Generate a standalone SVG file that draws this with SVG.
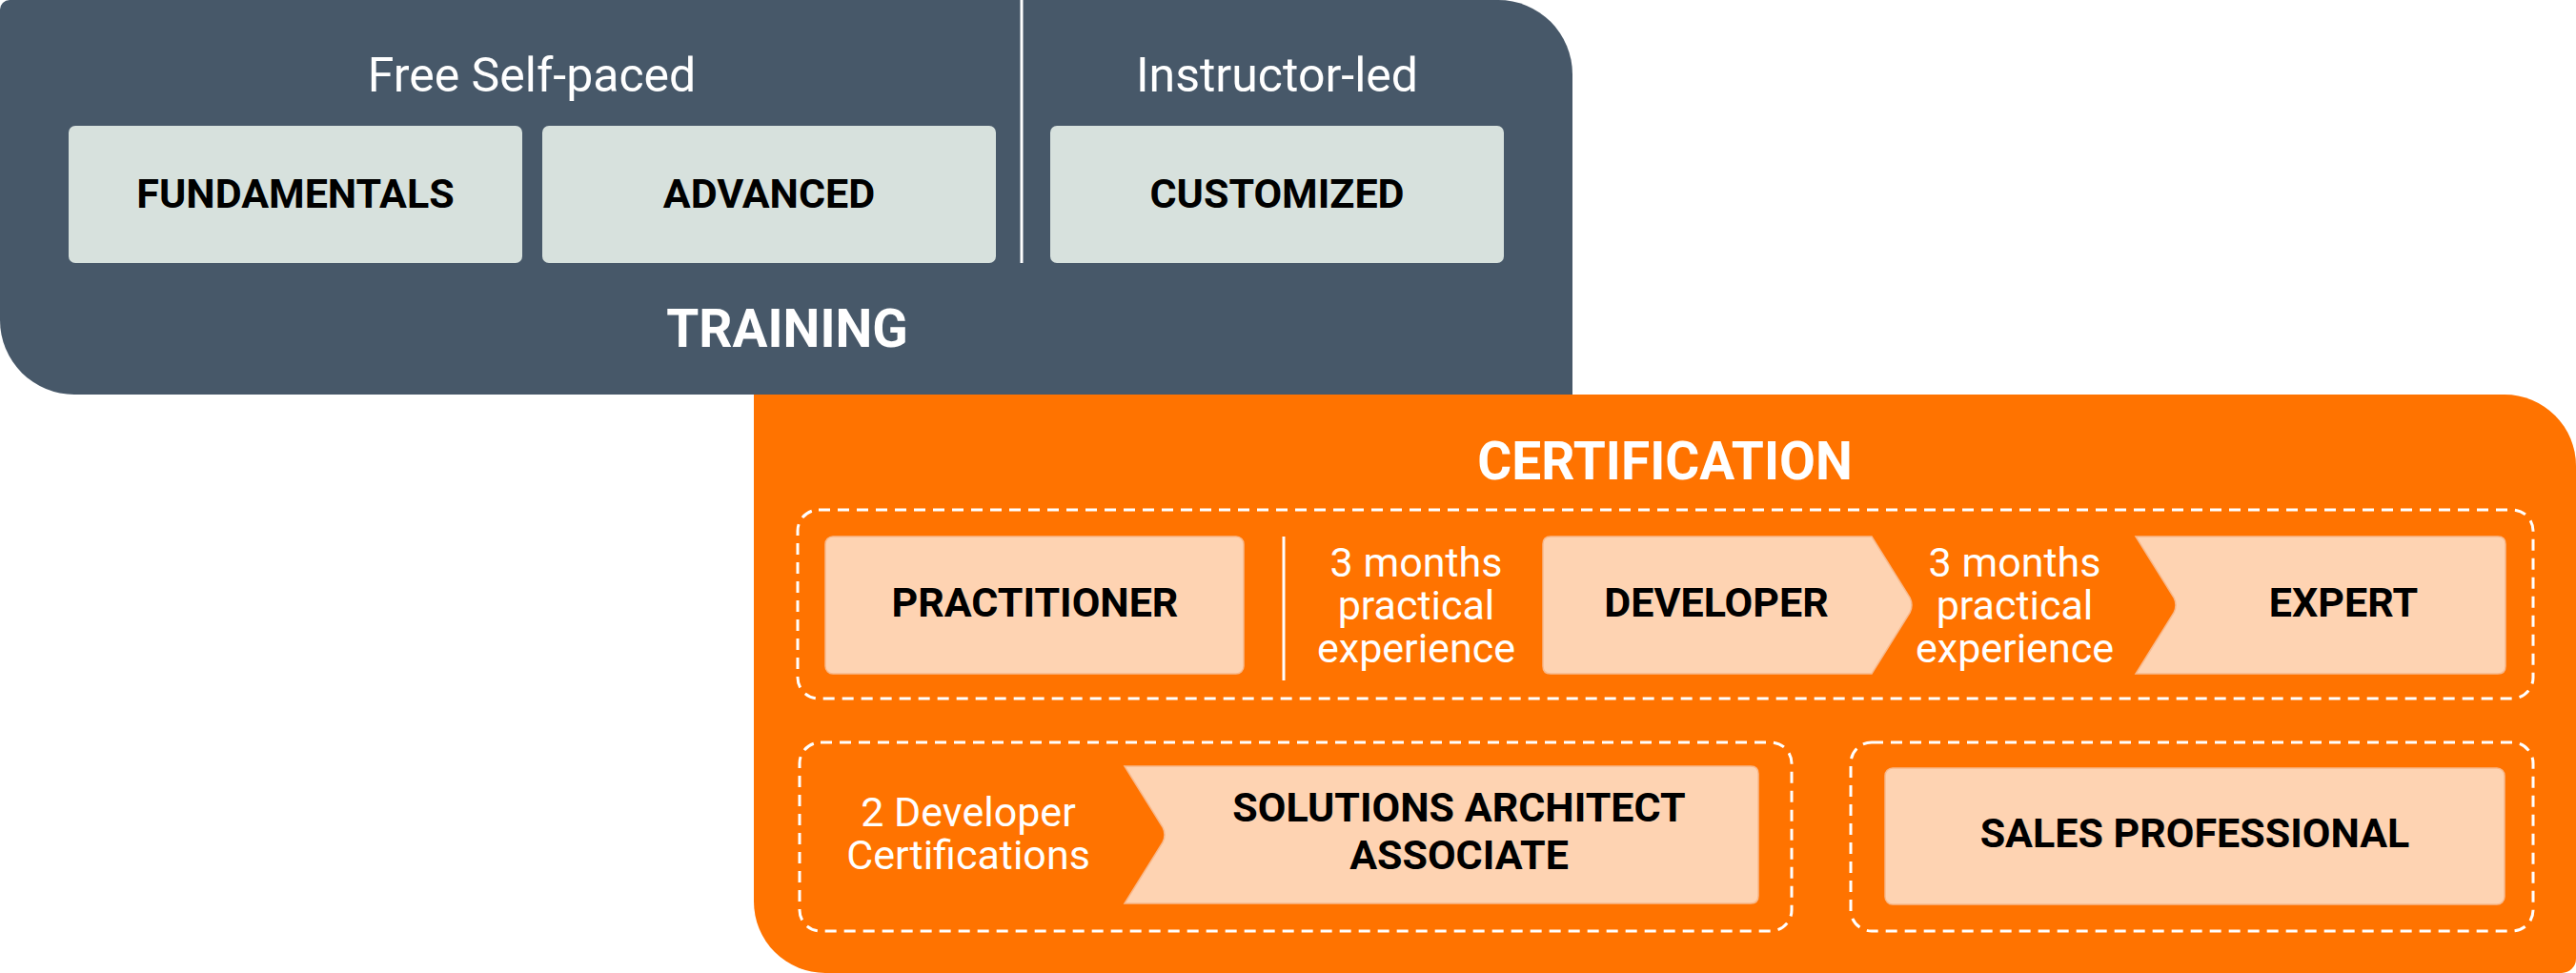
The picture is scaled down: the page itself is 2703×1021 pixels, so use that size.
<svg xmlns="http://www.w3.org/2000/svg" width="2703" height="1021" viewBox="0 0 2703 1021">
<style>
.hdr{font-family:Roboto,"Liberation Sans",sans-serif;font-size:50px;fill:#fff;text-anchor:middle}
.ttl{font-family:Roboto,"Liberation Sans",sans-serif;font-size:55px;font-weight:bold;fill:#fff;text-anchor:middle}
.lbl{font-family:Roboto,"Liberation Sans",sans-serif;font-size:43px;font-weight:bold;fill:#000;text-anchor:middle}
.note{font-family:Roboto,"Liberation Sans",sans-serif;font-size:43px;fill:#fff;text-anchor:middle}
.gbox{fill:#D7E1DD}
.obox{fill:#FED3B2;stroke:#F8B98C;stroke-width:1.5}
.dash{fill:none;stroke:#fff;stroke-width:3;stroke-dasharray:12 8}
.sep{stroke:#fff;stroke-width:3}
</style>
<g id="training">
<path d="M 10 0 H 1572 A 78 78 0 0 1 1650 78 V 414 H 78 A 78 78 0 0 1 0 336 V 10 A 10 10 0 0 1 10 0 Z" fill="#475869"/>
<text class="hdr" x="558" y="96">Free Self-paced</text>
<text class="hdr" x="1340" y="96">Instructor-led</text>
<line class="sep" x1="1072" y1="0" x2="1072" y2="276"/>
<text class="ttl" x="826" y="364">TRAINING</text>
</g>
<g id="fundamentals">
<rect class="gbox" x="72" y="132" width="476" height="144" rx="7"/>
<text class="lbl" x="310" y="218">FUNDAMENTALS</text>
</g>
<g id="advanced">
<rect class="gbox" x="569" y="132" width="476" height="144" rx="7"/>
<text class="lbl" x="807" y="218">ADVANCED</text>
</g>
<g id="customized">
<rect class="gbox" x="1102" y="132" width="476" height="144" rx="7"/>
<text class="lbl" x="1340" y="218">CUSTOMIZED</text>
</g>
<g id="certification">
<path d="M 791 414 H 2628 A 75 75 0 0 1 2703 489 V 1006 A 15 15 0 0 1 2688 1021 H 866 A 75 75 0 0 1 791 946 Z" fill="#FF7300"/>
<text class="ttl" x="1747" y="503">CERTIFICATION</text>
<rect class="dash" x="837" y="535" width="1821" height="198" rx="22"/>
<rect class="dash" x="839" y="779" width="1041" height="198" rx="22"/>
<rect class="dash" x="1942" y="779" width="716" height="198" rx="22"/>
<line class="sep" x1="1347" y1="563" x2="1347" y2="714"/>
<text class="note" x="1486" y="605">3 months</text>
<text class="note" x="1486" y="650">practical</text>
<text class="note" x="1486" y="695">experience</text>
<text class="note" x="2114" y="605">3 months</text>
<text class="note" x="2114" y="650">practical</text>
<text class="note" x="2114" y="695">experience</text>
<text class="note" x="1016" y="867">2 Developer</text>
<text class="note" x="1016" y="912">Certifications</text>
</g>
<g id="practitioner">
<rect class="obox" x="866" y="563" width="439" height="144" rx="8"/>
<text class="lbl" x="1086" y="647">PRACTITIONER</text>
</g>
<g id="developer">
<path class="obox" d="M 1627 563 H 1964 L 2004 627 Q 2008 635 2004 643 L 1964 707 H 1627 Q 1619 707 1619 699 V 571 Q 1619 563 1627 563 Z"/>
<text class="lbl" x="1801" y="647">DEVELOPER</text>
</g>
<g id="expert">
<path class="obox" d="M 2241 563 H 2621 Q 2629 563 2629 571 V 699 Q 2629 707 2621 707 H 2241 L 2281 643 Q 2285 635 2281 627 Z"/>
<text class="lbl" x="2459" y="647">EXPERT</text>
</g>
<g id="solutions-architect">
<path class="obox" d="M 1180 804 H 1837 Q 1845 804 1845 812 V 940 Q 1845 948 1837 948 H 1180 L 1220 884 Q 1224 876 1220 868 Z"/>
<text class="lbl" x="1531" y="862">SOLUTIONS ARCHITECT</text>
<text class="lbl" x="1531" y="912">ASSOCIATE</text>
</g>
<g id="sales-professional">
<rect class="obox" x="1978" y="806" width="650" height="143" rx="8"/>
<text class="lbl" x="2303" y="889">SALES PROFESSIONAL</text>
</g>
<g id="connectors"/>
</svg>
